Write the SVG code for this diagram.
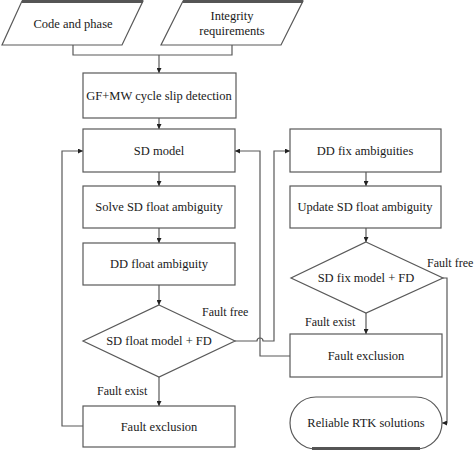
<svg xmlns="http://www.w3.org/2000/svg" width="474" height="450" viewBox="0 0 474 450">
<defs>
<style>
.n{fill:#fff;stroke:#595959;stroke-width:1.2}
.t{font-family:'Liberation Serif','Times New Roman',serif;font-size:12.5px;fill:#1a1a1a;text-anchor:middle}
.l{font-family:'Liberation Serif','Times New Roman',serif;font-size:12px;fill:#1a1a1a}
.c{fill:none;stroke:#595959;stroke-width:1.2}
.edge{stroke:#555;stroke-width:3}
</style>
<marker id="a" viewBox="0 0 10 10" refX="10" refY="5" markerWidth="5" markerHeight="5" orient="auto" markerUnits="userSpaceOnUse">
<path d="M0,0 L10,5 L0,10 z" fill="#222"/>
</marker>
</defs>
<rect width="474" height="450" fill="#fff"/>
<g id="connectors">
<path class="c" d="M73,45 V55 H232 V45"/>
<path class="c" d="M159,55 V73" marker-end="url(#a)"/>
<path class="c" d="M159,118 V129" marker-end="url(#a)"/>
<path class="c" d="M159,172 V186" marker-end="url(#a)"/>
<path class="c" d="M159,228 V243" marker-end="url(#a)"/>
<path class="c" d="M159,285 V305" marker-end="url(#a)"/>
<path class="c" d="M159,377 V406" marker-end="url(#a)"/>
<path class="c" d="M83,426 H62 V151 H83" marker-end="url(#a)"/>
<path class="c" d="M235,341 H257 A3,3 0 0 1 263,341 H274 V151 H290" marker-end="url(#a)"/>
<path class="c" d="M290,356 H260 V151 H235" marker-end="url(#a)"/>
<path class="c" d="M366,172 V186" marker-end="url(#a)"/>
<path class="c" d="M366,228 V242" marker-end="url(#a)"/>
<path class="c" d="M366,313 V334" marker-end="url(#a)"/>
<path class="c" d="M443,278 H447 V423 H442" marker-end="url(#a)"/>
</g>
<g id="code-phase">
<polygon class="n" points="22,1 143,1 122,45 2,45"/>
<line class="edge" x1="22" y1="1.5" x2="143" y2="1.5"/>
<text class="t" x="73" y="28">Code and phase</text>
</g>
<g id="integrity">
<polygon class="n" points="183,1 303,1 281,45 161,45"/>
<line class="edge" x1="183" y1="1.5" x2="303" y2="1.5"/>
<text class="t" x="232" y="20">Integrity</text>
<text class="t" x="232" y="35">requirements</text>
</g>
<g id="cycle-slip">
<rect class="n" x="83" y="73" width="153" height="45"/>
<text class="t" x="159" y="100">GF+MW cycle slip detection</text>
</g>
<g id="sd-model">
<rect class="n" x="83" y="129" width="152" height="43"/>
<text class="t" x="159" y="155">SD model</text>
</g>
<g id="solve-sd">
<rect class="n" x="83" y="186" width="152" height="42"/>
<text class="t" x="159" y="211">Solve SD float ambiguity</text>
</g>
<g id="dd-float">
<rect class="n" x="83" y="243" width="152" height="42"/>
<text class="t" x="159" y="268">DD float ambiguity</text>
</g>
<g id="sd-float-fd">
<polygon class="n" points="159,305 235,341 159,377 83,341"/>
<text class="t" x="159" y="345">SD float model + FD</text>
</g>
<g id="fault-excl-left">
<rect class="n" x="83" y="406" width="152" height="41"/>
<text class="t" x="159" y="431">Fault exclusion</text>
</g>
<g id="dd-fix">
<rect class="n" x="290" y="129" width="151" height="43"/>
<text class="t" x="365" y="155">DD fix ambiguities</text>
</g>
<g id="update-sd">
<rect class="n" x="290" y="186" width="151" height="42"/>
<text class="t" x="365" y="211">Update SD float ambiguity</text>
</g>
<g id="sd-fix-fd">
<polygon class="n" points="366,242 443,278 366,313 291,278"/>
<text class="t" x="366" y="282">SD fix model + FD</text>
</g>
<g id="fault-excl-right">
<rect class="n" x="290" y="334" width="152" height="43"/>
<text class="t" x="366" y="360">Fault exclusion</text>
</g>
<g id="rtk">
<rect class="n" x="290" y="397" width="152" height="52" rx="26" ry="26"/>
<line class="edge" x1="312" y1="448.5" x2="420" y2="448.5"/>
<text class="t" x="366" y="427">Reliable RTK solutions</text>
</g>
<g id="labels">
<text class="l" x="202" y="316">Fault free</text>
<text class="l" x="97" y="395">Fault exist</text>
<text class="l" x="427" y="267">Fault free</text>
<text class="l" x="305" y="326">Fault exist</text>
</g>
</svg>
